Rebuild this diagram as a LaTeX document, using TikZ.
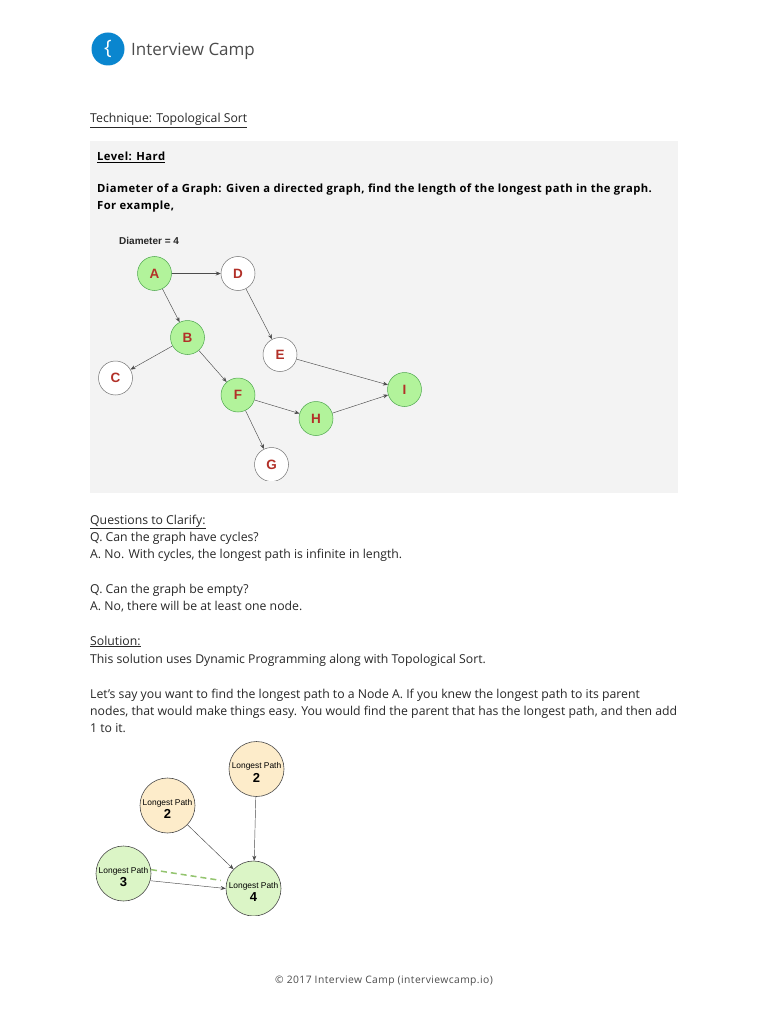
\documentclass[tikz,border=0pt]{standalone}
\usepackage{fontspec}
\setmainfont{Open Sans}
\newfontfamily\arialfont{Liberation Sans}
\newfontfamily\spacedfont[LetterSpace=4]{Open Sans}
\usepackage{tikz}
\usetikzlibrary{arrows.meta, positioning}
\definecolor{logoblue}{RGB}{10,134,207}
\definecolor{boxgray}{RGB}{243,243,243}
\definecolor{inkgray}{RGB}{40,40,40}
\definecolor{nodegreen}{RGB}{178,243,155}
\definecolor{nodered}{RGB}{178,48,40}
\definecolor{softgreen}{RGB}{219,245,198}
\definecolor{softorange}{RGB}{253,236,202}
\definecolor{dashgreen}{RGB}{147,196,110}
\newcommand{\pathlabel}[1]{\rule{0pt}{13pt}\makebox[30pt][c]{Longest Path}\\[2.5pt]{\fontsize{13}{13}\arialfont\bfseries #1}}

\begin{document}
\begin{tikzpicture}[
  x=1pt, y=-1pt,
  line/.style={anchor=base west, inner sep=0pt, text=inkgray, font=\fontsize{12.25}{14}\selectfont},
  boldline/.style={line, text=black, font=\fontsize{11.25}{13}\spacedfont\bfseries},
  vertex/.style={circle, draw=black!55, fill=white, line width=0.5pt, minimum size=34pt, inner sep=0pt,
               text=nodered, font=\fontsize{13.5}{15}\arialfont\bfseries},
  visited/.style={vertex, draw=black!50!green!70, fill=nodegreen},
  pathnode/.style={circle, draw=black!70, line width=0.6pt, minimum size=55pt, inner sep=0pt, align=center,
               font=\fontsize{8.4}{11}\arialfont},
  arrow/.style={-{Stealth[length=5pt, width=4pt]}, line width=0.45pt, black!70}
]
\useasboundingbox (0,0) rectangle (768,1024);
\fill[white] (0,0) rectangle (768,1024);
\fill[boxgray] (90,141) rectangle (678,493);

% header
\node[circle, fill=logoblue, minimum size=33pt, inner sep=0pt, text=white,
      font=\fontsize{20}{20}\selectfont] (logo) at (108,49) {\{};
\node[anchor=base west, inner sep=0pt, text=black!70, font=\fontsize{17}{20}\selectfont] (brand) at (131,56) {Interview Camp};

\node[line] (technique) at (90,123) {\underline{Technique: Topological Sort}};
\node[boldline] (level) at (97,161) {\underline{Level: Hard}};
\node[boldline] (problem) at (97,192.5) {Diameter of a Graph: Given a directed graph, find the length of the longest path in the graph.};
\node[boldline] (example) at (97,209.5) {For example,};

% first graph
\node[anchor=base west, inner sep=0pt, font=\fontsize{10}{12}\arialfont\bfseries, text=black!85] (diameter) at (119,244) {Diameter = 4};
\begin{scope}
\clip (95,230) rectangle (421.5,480);
\node[visited] (A) at (154.5,273.5) {A};
\node[vertex] (D) at (238,273.5) {D};
\node[visited] (B) at (187.5,337.5) {B};
\node[vertex] (C) at (115.5,378) {C};
\node[vertex] (E) at (280,354.5) {E};
\node[visited] (F) at (238,395) {F};
\node[visited] (H) at (316,418.5) {H};
\node[visited] (I) at (404.5,389.5) {I};
\node[vertex] (G) at (271.5,464.5) {G};
\end{scope}
\draw[arrow] (A) -- (D);
\draw[arrow] (A) -- (B);
\draw[arrow] (D) -- (E);
\draw[arrow] (B) -- (C);
\draw[arrow] (B) -- (F);
\draw[arrow] (E) -- (I);
\draw[arrow] (F) -- (H);
\draw[arrow] (F) -- (G);
\draw[arrow] (H) -- (I);

% text
\node[line] (questions) at (90,524) {\underline{Questions to Clarify:}};
\node[line] (q1) at (90,541.5) {Q. Can the graph have cycles?};
\node[line] (a1) at (90,558.5) {A. No. With cycles, the longest path is infinite in length.};
\node[line] (q2) at (90,593.5) {Q. Can the graph be empty?};
\node[line] (a2) at (90,610.5) {A. No, there will be at least one node.};
\node[line] (solution) at (90,645) {\underline{Solution:}};
\node[line] (sol1) at (90,663.5) {This solution uses Dynamic Programming along with Topological Sort.};
\node[line] (sol2) at (90,698.5) {Let's say you want to find the longest path to a Node A. If you knew the longest path to its parent};
\node[line] (sol3) at (90,715.5) {nodes, that would make things easy. You would find the parent that has the longest path, and then add};
\node[line] (sol4) at (90,732.5) {1 to it.};

% second graph
\begin{scope}
\clip (90,735) rectangle (290,915);
\node[pathnode, fill=softorange] (top) at (256.5,769) {\pathlabel{2}};
\node[pathnode, fill=softorange] (mid) at (167.5,805.5) {\pathlabel{2}};
\node[pathnode, fill=softgreen] (left) at (123.5,873.5) {\pathlabel{3}};
\node[pathnode, fill=softgreen] (goal) at (253.5,888.5) {\pathlabel{4}};
\end{scope}
\draw[arrow] (top) -- (goal);
\draw[arrow] (mid) -- (goal);
\draw[arrow] (left.-15) -- (goal.west);
\draw[dashgreen, line width=1.5pt, dash pattern=on 6pt off 4pt, shorten >=6pt] (left.8) -- (goal.165);

% footer
\node[anchor=base, inner sep=0pt, text=black!70, font=\fontsize{10.3}{12}\spacedfont] (footer) at (384,983) {© 2017 Interview Camp (interviewcamp.io)};
\end{tikzpicture}
\end{document}
